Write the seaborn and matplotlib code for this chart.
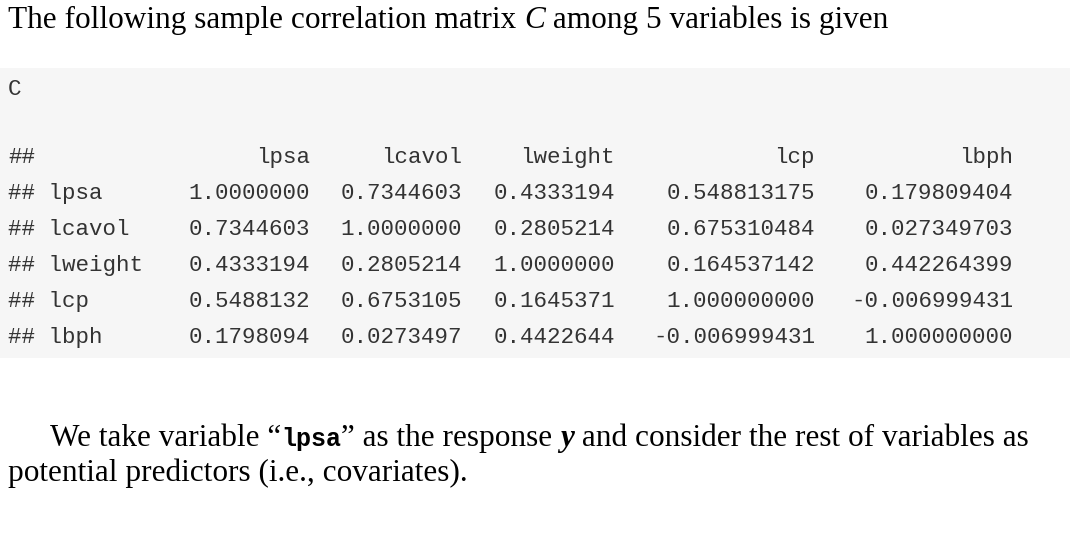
import matplotlib
matplotlib.use("Agg")
import matplotlib.pyplot as plt
import seaborn as sns

# correlation matrix values as printed
names = ["lpsa", "lcavol", "lweight", "lcp", "lbph"]
corr = [
    [1.0000000, 0.7344603, 0.4333194, 0.548813175, 0.179809404],
    [0.7344603, 1.0000000, 0.2805214, 0.675310484, 0.027349703],
    [0.4333194, 0.2805214, 1.0000000, 0.164537142, 0.442264399],
    [0.5488132, 0.6753105, 0.1645371, 1.000000000, -0.006999431],
    [0.1798094, 0.0273497, 0.4422644, -0.006999431, 1.000000000],
]
decimals = [7, 7, 7, 9, 9]
col_right = [310, 462, 615, 815, 1013]

sns.set_theme(style="white")
serif = ["Liberation Serif", "DejaVu Serif"]
mono = ["Liberation Mono", "DejaVu Sans Mono"]

fig = plt.figure(figsize=(10.8, 5.4), dpi=100)
ax = fig.add_axes([0, 0, 1, 1])
ax.set_xlim(0, 1080)
ax.set_ylim(540, 0)
ax.axis("off")
fig.canvas.draw()
renderer = fig.canvas.get_renderer()


def write_runs(x, y, runs):
    # draw text pieces one after another on a single line
    for txt, kw in runs:
        t = ax.text(x, y, txt, va="baseline", ha="left", **kw)
        bb = t.get_window_extent(renderer)
        x += bb.width


body = dict(family=serif, fontsize=22.5, color="black")
write_runs(8, 28, [
    ("The following sample correlation matrix ", body),
    ("C", dict(body, style="italic")),
    (" among 5 variables is given", body),
])

ax.add_patch(plt.Rectangle((0, 68), 1070, 290, color="#f6f6f6", lw=0))

code = dict(family=mono, fontsize=16.2, color="#333333", va="baseline")
ax.text(8, 95, "C", ha="left", **code)

row_y = [163, 199, 235, 271, 307, 343]
ax.text(8, row_y[0], "##", ha="left", **code)
for j, n in enumerate(names):
    ax.text(col_right[j], row_y[0], n, ha="right", **code)
for i, n in enumerate(names):
    y = row_y[i + 1]
    ax.text(8, y, "## " + n, ha="left", **code)
    for j in range(len(names)):
        ax.text(col_right[j], y, f"{corr[i][j]:.{decimals[j]}f}", ha="right", **code)

write_runs(50, 446, [
    ("We take variable \u201c", body),
    ("lpsa", dict(family=mono, fontsize=18, weight="bold", color="black")),
    ("\u201d as the response ", body),
    ("y", dict(body, style="italic", weight="bold")),
    (" and consider the rest of variables as", body),
])
ax.text(8, 481, "potential predictors (i.e., covariates).", va="baseline", ha="left", **body)

fig.savefig("out.png", dpi=100)
